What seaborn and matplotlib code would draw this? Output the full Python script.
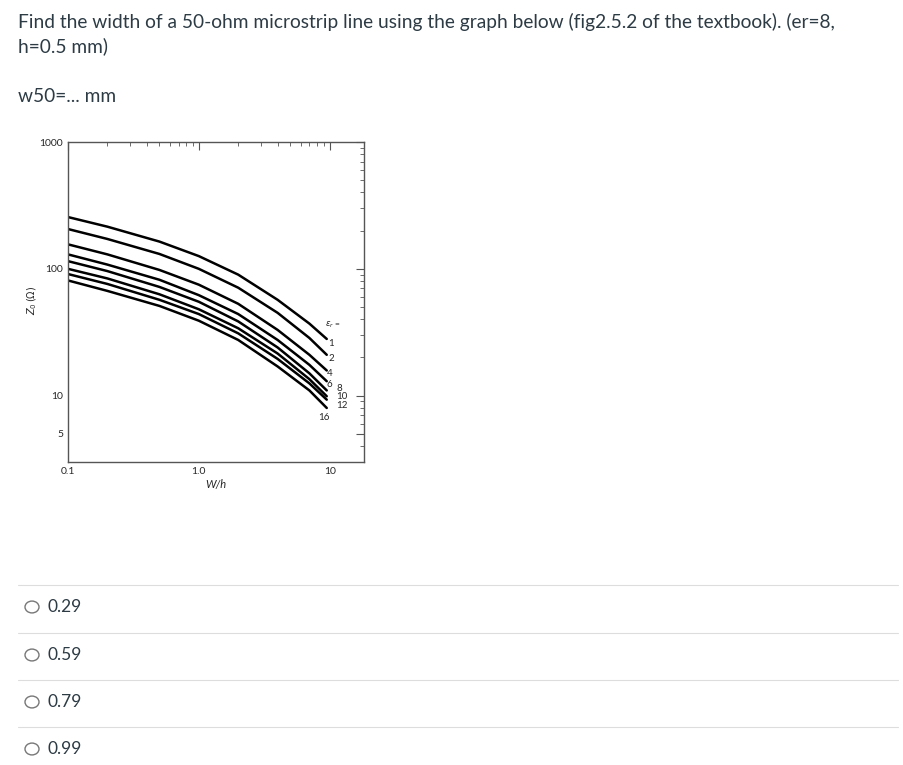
import matplotlib
matplotlib.use("Agg")
import matplotlib.pyplot as plt
import seaborn as sns
import pandas as pd
from matplotlib.patches import Circle
from matplotlib.lines import Line2D
from matplotlib.ticker import LogLocator, NullFormatter, FixedLocator, FixedFormatter

sns.set_style("white")
plt.rcParams['font.family'] = ['Lato', 'DejaVu Sans']

wh = [0.1, 0.2, 0.5, 1.0, 2.0, 4.0, 7.0, 9.5]
er_values = [1, 2, 4, 6, 8, 10, 12, 16]
z_er1 = [256, 215, 164, 126, 90, 57, 37, 28]
z_er2 = [206, 172, 131, 100, 71, 45, 28.5, 21]
z_er4 = [156, 130, 98, 75, 53, 33, 21, 15.8]
z_er6 = [130, 108, 82, 62, 44, 27.5, 17.5, 13]
z_er8 = [115, 96, 72, 55, 38.5, 24, 15, 11]
z_er10 = [100, 84, 63, 48, 34, 21.5, 13.5, 9.9]
z_er12 = [91, 76, 57, 44, 31, 19.5, 12.5, 9.3]
z_er16 = [81, 67, 51, 39, 27.5, 17, 11, 8]
series = [z_er1, z_er2, z_er4, z_er6, z_er8, z_er10, z_er12, z_er16]
options = ["0.29", "0.59", "0.79", "0.99"]

rows = []
for er, zs in zip(er_values, series):
    for w, z in zip(wh, zs):
        rows.append({"wh": w, "z": z, "er": str(er)})
df = pd.DataFrame(rows)

W, H = 904, 765
fig = plt.figure(figsize=(W/100, H/100), dpi=100)
ax = fig.add_axes([68/W, 1-462/H, 296/W, 320/H])
sns.lineplot(data=df, x="wh", y="z", hue="er", palette=["black"]*8,
             legend=False, ax=ax, linewidth=1.8)
ax.set_xscale("log"); ax.set_yscale("log")
ax.set_xlim(0.1, 18.3); ax.set_ylim(3.0, 1000)
for s in ax.spines.values():
    s.set_color("#555555"); s.set_linewidth(1.0)
ax.xaxis.set_major_locator(FixedLocator([0.1, 1, 10]))
ax.xaxis.set_major_formatter(FixedFormatter(["0.1", "1.0", "10"]))
ax.yaxis.set_major_locator(FixedLocator([5, 10, 100, 1000]))
ax.yaxis.set_major_formatter(FixedFormatter(["5", "10", "100", "1000"]))
ax.xaxis.set_minor_locator(LogLocator(subs=range(2, 10)))
ax.yaxis.set_minor_locator(LogLocator(subs=range(2, 10)))
ax.xaxis.set_minor_formatter(NullFormatter()); ax.yaxis.set_minor_formatter(NullFormatter())
ax.tick_params(which="both", direction="in", top=True, right=True, color="#555555", labelsize=7.5)
ax.tick_params(which="major", length=6)
ax.tick_params(which="minor", length=3)
ax.set_xlabel("W/h", fontsize=8, style="italic", labelpad=2)
ax.set_ylabel("")
fig.text(32/W, 1-300/H, "$Z_0\\,(\\Omega)$", fontsize=7, rotation=90, ha="center", va="center")

lab = {1: (10.3, 26), 2: (10.3, 19.5), 4: (10.0, 15), 6: (10.0, 12.3),
       8: (11.8, 11.3), 10: (12.4, 9.9), 12: (12.4, 8.3), 16: (9.1, 6.7)}
for er, (x, y) in lab.items():
    ax.text(x, y, str(er), fontsize=7, ha="center", va="center")
ax.text(10.5, 36, "$\\epsilon_r$ =", fontsize=6, ha="center", va="center")

col = "#2d3b45"
fig.text(18/W, 1-22/H, "Find the width of a 50-ohm microstrip line using the graph below (fig2.5.2 of the textbook). (er=8,",
         fontsize=13.8, va="center", color=col)
fig.text(18/W, 1-46/H, "h=0.5 mm)", fontsize=13.8, va="center", color=col)
fig.text(18/W, 1-97/H, "w50=... mm", fontsize=13.8, va="center", color=col)

for i, y in enumerate([585, 633, 680, 727]):
    fig.add_artist(Line2D([18/W, 898/W], [1-y/H, 1-y/H], color="#dddddd", lw=0.8))
    cy = y + 22
    fig.add_artist(Circle((32/W, 1-cy/H), 7/W, transform=fig.transFigure,
                          fill=False, ec="#777777", lw=1))
    fig.text(48/W, 1-cy/H, options[i], fontsize=12.5, va="center", color=col)

fig.savefig("out.png", dpi=100)
